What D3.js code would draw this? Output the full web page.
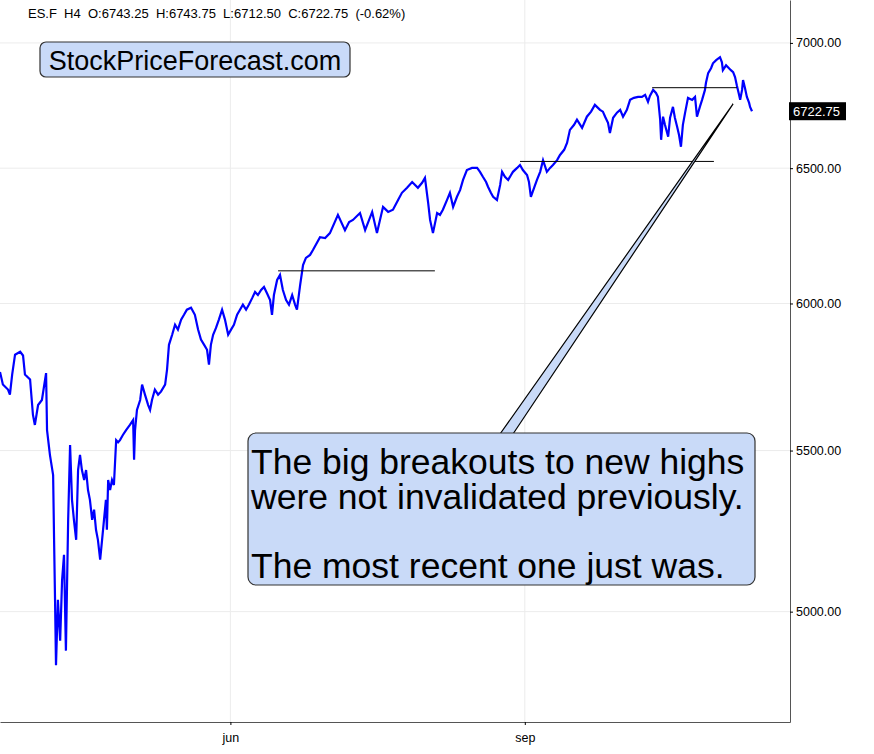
<!DOCTYPE html>
<html><head><meta charset="utf-8">
<script src="https://cdn.jsdelivr.net/npm/d3@7"></script>
<style>body{margin:0;background:#fff}svg{display:block;font-family:"Liberation Sans",Arial,sans-serif}</style>
</head><body><svg id="c" width="874" height="754"></svg>
<script>
const startDate = new Date(2025, 2, 21);
const days = [0,0.9,2.5,3.1,3.8,4.7,6.3,7.2,7.8,9.4,10.3,10.9,11.9,13.1,14.4,14.7,15.6,16.6,16.9,17.2,17.5,18.1,18.8,19.4,20,20.6,21.3,21.9,22.5,23.1,23.8,24.4,25,25.6,26.3,26.9,27.5,28.1,28.8,29.4,30,30.6,31.3,31.9,32.5,33.1,33.4,33.8,34.4,35,35.6,36.3,36.9,37.5,38.4,39.4,40.6,41.6,41.9,42.2,42.8,43.8,44.4,45.3,46.3,46.9,47.5,48.4,49.4,50.3,51.6,52.2,52.8,53.8,54.7,55.6,56.6,57.5,58.4,59.7,60.9,61.9,62.8,63.8,64.7,65.3,65.9,66.6,67.5,68.4,69.4,70.3,71.3,72.2,73.1,74.1,75,75.9,76.9,77.8,78.8,79.7,80.6,81.6,82.5,83.4,84.4,85,85.6,86.6,87.5,88.4,89.4,90.3,91.3,92.2,92.8,93.8,94.7,95.6,96.9,97.8,100,101.6,103.1,105.6,107.8,109.1,110.3,112.5,114.1,116.3,117.8,119.7,121.3,122.8,124.4,125.6,127.2,128.8,130.6,131.9,132.8,133.8,134.4,135.3,136.6,137.5,138.4,139.7,140.6,141.6,142.8,143.8,144.7,145.9,147.5,149.1,150,150.9,151.9,152.5,153.4,154.1,155.3,156.3,156.9,157.8,158.8,159.7,160.3,161.6,162.5,163.4,164.7,165.3,165.9,166.9,167.8,168.8,169.7,170.9,171.9,172.8,174.1,175,176.3,177.2,178.1,179.4,180.3,181.9,183.4,184.7,185.9,187.5,188.4,189.1,190,190.6,191.6,192.8,193.8,194.7,195.9,196.9,198.1,199.4,200.6,201.6,202.5,203.1,204.1,205,205.6,206.3,206.6,207.2,207.8,208.8,209.4,210.3,210.9,211.6,212.2,212.8,213.4,214.1,215,216.3,217.2,217.8,218.8,219.4,220.3,220.6,221.3,222.2,222.8,223.8,225,225.6,225.9,226.9,227.5,228.4,229.1,229.7,230.3,230.9,231.3,231.9,232.2,232.8,233.4,234.1,234.4,235];
const closes = [5762,5719,5702,5685,5753,5821,5831,5818,5753,5736,5617,5584,5650,5667,5758,5567,5486,5421,5217,5035,4844,5035,4915,5094,5171,4886,5279,5518,5342,5279,5217,5437,5486,5437,5405,5437,5373,5342,5279,5311,5248,5217,5156,5217,5279,5342,5248,5405,5373,5405,5389,5534,5527,5534,5551,5567,5584,5600,5470,5567,5634,5667,5719,5685,5650,5634,5667,5702,5685,5695,5719,5770,5855,5890,5925,5908,5943,5960,5978,5985,5960,5908,5873,5855,5838,5787,5855,5890,5914,5943,5978,5943,5890,5908,5925,5960,5978,5996,5978,5996,6019,6041,6030,6048,6059,6037,6012,5960,6030,6084,6102,6048,6012,5996,6030,5996,5978,6066,6138,6164,6175,6193,6240,6237,6255,6323,6266,6296,6304,6330,6266,6334,6255,6353,6334,6342,6379,6406,6425,6447,6425,6444,6463,6368,6304,6255,6330,6323,6342,6379,6406,6353,6391,6417,6455,6493,6501,6501,6486,6467,6447,6429,6406,6391,6379,6436,6486,6467,6455,6474,6486,6501,6512,6493,6474,6447,6391,6425,6455,6486,6531,6486,6501,6512,6531,6551,6571,6598,6649,6669,6689,6657,6701,6721,6748,6728,6721,6701,6677,6637,6697,6717,6728,6701,6728,6768,6776,6780,6780,6788,6760,6784,6808,6796,6780,6689,6610,6701,6669,6622,6697,6740,6697,6661,6629,6583,6669,6717,6776,6768,6780,6701,6744,6768,6808,6836,6876,6896,6916,6929,6941,6920,6888,6908,6900,6888,6880,6860,6824,6792,6768,6808,6848,6816,6780,6756,6740,6722.75];
const yTicks = [5000, 5500, 6000, 6500, 7000];
const xTickDates = [new Date(2025,5,1), new Date(2025,8,1)];
const levels = [{price:6117, from:86.9, to:135.9},{price:6526, from:162.5, to:223.1},{price:6817, from:203.8, to:230.3}];
const header = "ES.F  H4  O:6743.25  H:6743.75  L:6712.50  C:6722.75  (-0.62%)";
const lastClose = "6722.75";
const calloutLines = ["The big breakouts to new highs","were not invalidated previously.","","The most recent one just was."];
const logo = "StockPriceForecast.com";

const svg = d3.select("#c");
const W = 790, H = 722;
const dayMs = 864e5;
const toDate = d => new Date(startDate.getTime() + d*dayMs);
const x = d3.scaleTime().domain([startDate, toDate(W/3.2)]).range([0, W]);
const y = d3.scaleLog().domain([4684, 7180]).range([H, 0]);

const g = svg.append("g");
g.selectAll(".hg").data(yTicks).join("line").attr("x1",0).attr("x2",W).attr("y1",d=>y(d)).attr("y2",d=>y(d)).attr("stroke","#ececec");
g.selectAll(".vg").data(xTickDates).join("line").attr("y1",0).attr("y2",H).attr("x1",d=>x(d)).attr("x2",d=>x(d)).attr("stroke","#ececec");

const data = days.map((d,i)=>({t:toDate(d), v:closes[i]}));
svg.append("path").datum(data).attr("fill","none").attr("stroke","#0000ff").attr("stroke-width",2.2).attr("stroke-linejoin","miter")
  .attr("d", d3.line().x(d=>x(d.t)).y(d=>y(d.v)));

const ya = svg.append("g").attr("transform",`translate(${W},0)`).call(d3.axisRight(y).tickValues(yTicks).tickFormat(d3.format(".2f")).tickSize(3).tickSizeOuter(0));
ya.select(".domain").attr("stroke","#555");
ya.selectAll("text").attr("font-size",12.5).attr("fill","#000").attr("x",6);
const xa = svg.append("g").attr("transform",`translate(0,${H})`).call(d3.axisBottom(x).tickValues(xTickDates).tickFormat(d=>d3.timeFormat("%b")(d).toLowerCase()).tickSize(3).tickSizeOuter(0));
xa.select(".domain").attr("stroke","#555");
xa.selectAll("text").attr("font-size",12.5).attr("fill","#000").attr("dy","1.1em");

svg.selectAll(".lvl").data(levels).join("line").attr("x1",d=>x(toDate(d.from))).attr("x2",d=>x(toDate(d.to)))
  .attr("y1",d=>y(d.price)).attr("y2",d=>y(d.price)).attr("stroke","#000").attr("stroke-width",1);

const ly = y(+lastClose);
svg.append("rect").attr("x",W-1).attr("y",ly-9).attr("width",57).attr("height",18).attr("fill","#000");
svg.append("text").attr("x",W+3).attr("y",ly+4.5).attr("fill","#fff").attr("font-size",13).text(lastClose);

svg.append("text").attr("x",28).attr("y",18).attr("font-size",13).attr("xml:space","preserve").style("white-space","pre").text(header);

svg.append("rect").attr("x",40).attr("y",42).attr("width",310).attr("height",35).attr("rx",6).attr("fill","#c9daf8").attr("stroke","#333").attr("stroke-width",1.2);
svg.append("text").attr("x",195).attr("y",70).attr("text-anchor","middle").attr("font-size",27).attr("fill","#000").text(logo);

const tip = [x(toDate(229.1)), y(6752)];
svg.append("polygon").attr("points",`500,434 ${tip[0]},${tip[1]} 513,434`).attr("fill","#c9daf8").attr("stroke","#000").attr("stroke-width",1.2);
svg.append("rect").attr("x",248).attr("y",433).attr("width",507).attr("height",152).attr("rx",8).attr("fill","#c9daf8").attr("stroke","#333").attr("stroke-width",1.2);
svg.selectAll(".cl").data(calloutLines).join("text").attr("x",251).attr("y",(d,i)=>474+i*34.8).attr("font-size",35.5).attr("fill","#000").text(d=>d);
</script></body></html>
